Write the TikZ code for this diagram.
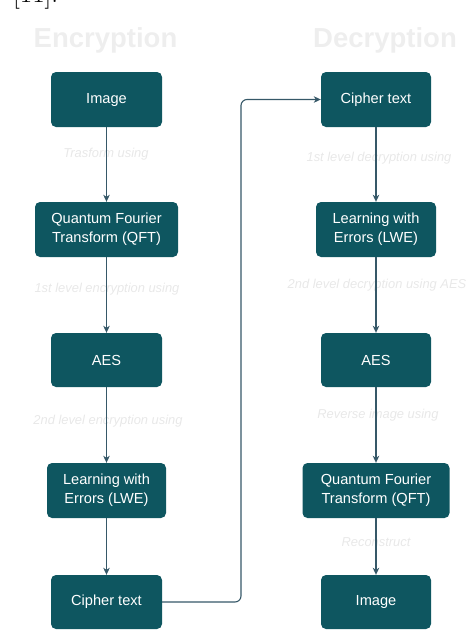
\documentclass[tikz,border=0pt]{standalone}
\usepackage{fontspec}
\setmainfont{Liberation Sans}
\usetikzlibrary{arrows.meta}
\definecolor{boxfill}{HTML}{0E5660}
\definecolor{linec}{HTML}{365868}
\definecolor{faint}{HTML}{E8E8E8}
\definecolor{titlec}{HTML}{EEEEEE}
\tikzset{
  box/.style={draw=none, fill=boxfill, rounded corners=5pt, text=white,
    font=\fontsize{14.6}{19}\selectfont, align=center, inner sep=0pt},
  conn/.style={draw=linec, line width=1.1pt, -{Stealth[length=7pt,width=6.5pt,inset=2pt]}},
  lbl/.style={text=faint, font=\fontsize{12.9}{15}\selectfont\itshape, inner sep=0pt},
  ttl/.style={text=titlec, font=\fontsize{27.5}{30}\selectfont\bfseries, inner sep=0pt}
}
\begin{document}
\begin{tikzpicture}[x=1pt,y=-1pt]
\useasboundingbox (0,0) rectangle (468,630);
\begin{scope}
\clip (0,0) rectangle (468,630);
\node[anchor=base west, inner sep=0pt, font=\fontspec{Latin Modern Roman}\fontsize{27}{30}\selectfont] (ref) at (13,2.5) {[11].};
\end{scope}
% titles
\node[ttl] (t1) at (105.5,40) {Encryption};
\node[ttl] (t2) at (385,40) {Decryption};
% labels
\node[lbl] (l1) at (106,154) {Trasform using};
\node[lbl] (l2) at (107,289) {1st level encryption using};
\node[lbl] (l3) at (108,421) {2nd level encryption using};
\node[lbl] (r1) at (379,158) {1st level decryption using};
\node[lbl] (r2) at (377,285) {2nd level decryption using AES};
\node[lbl] (r3) at (378,415) {Reverse image using};
\node[lbl] (r4) at (376,542) {Reconstruct};
% left column
\node[box, minimum width=111pt, minimum height=55pt] (img1) at (106.5,99.5) {Image};
\node[box, minimum width=143pt, minimum height=55pt] (qft1) at (106.5,229.5) {Quantum Fourier\\Transform (QFT)};
\node[box, minimum width=111pt, minimum height=54pt] (aes1) at (106.5,360) {AES};
\node[box, minimum width=119pt, minimum height=55pt] (lwe1) at (106.5,490.5) {Learning with\\Errors (LWE)};
\node[box, minimum width=111pt, minimum height=54pt] (ct1) at (106.5,602) {Cipher text};
% right column
\node[box, minimum width=110pt, minimum height=55pt] (ct2) at (376,99.5) {Cipher text};
\node[box, minimum width=120pt, minimum height=55pt] (lwe2) at (376,229.5) {Learning with\\Errors (LWE)};
\node[box, minimum width=110pt, minimum height=54pt] (aes2) at (376,360) {AES};
\node[box, minimum width=147pt, minimum height=55pt] (qft2) at (376,490.5) {Quantum Fourier\\Transform (QFT)};
\node[box, minimum width=110pt, minimum height=54pt] (img2) at (376,602) {Image};
% arrows
\draw[conn] (img1) -- (qft1);
\draw[conn] (qft1) -- (aes1);
\draw[conn] (aes1) -- (lwe1);
\draw[conn] (lwe1) -- (ct1);
\draw[conn] (ct2) -- (lwe2);
\draw[conn] (lwe2) -- (aes2);
\draw[conn] (aes2) -- (qft2);
\draw[conn] (qft2) -- (img2);
\coordinate (mid) at (241,350);
\draw[conn, rounded corners=6pt] (ct1.east) -| (mid) |- (ct2.west);
\end{tikzpicture}
\end{document}
